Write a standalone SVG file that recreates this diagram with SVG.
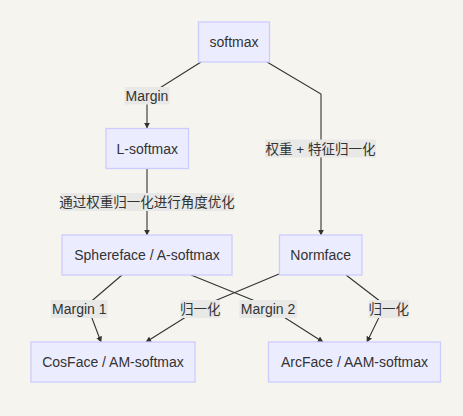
<svg xmlns="http://www.w3.org/2000/svg" width="463" height="416" viewBox="0 0 463 416">
<defs>
<style>
.node rect{fill:#ececff;stroke:#ccccff;stroke-width:1.3}
.node text,.label text{font-family:"Liberation Sans","Noto Sans CJK SC",sans-serif;font-size:14px;fill:#333;text-anchor:middle}
.label rect{fill:#e8e8e6}
.label text.cjk{font-size:13.5px}
.edges path{fill:none;stroke:#333;stroke-width:1.1}
</style>
<marker id="arrow" viewBox="0 0 10 10" refX="9" refY="5" markerWidth="6" markerHeight="6" markerUnits="userSpaceOnUse" orient="auto">
<path d="M0,0 L10,5 L0,10 z" fill="#333"/>
</marker>
</defs>
<rect width="463" height="416" fill="#f6f4ee"/>
<g class="edges">
<path d="M201,62 L147,96 L147,128" marker-end="url(#arrow)"/>
<path d="M267,62 L321,94 L321,235" marker-end="url(#arrow)"/>
<path d="M147,168.5 L147,235" marker-end="url(#arrow)"/>
<path d="M122,275 L87,305 L101,342" marker-end="url(#arrow)"/>
<path d="M279,274 L205,305 L146,342" marker-end="url(#arrow)"/>
<path d="M191,275 L265,305 L323,342" marker-end="url(#arrow)"/>
<path d="M346,275 L385,305 L367,342" marker-end="url(#arrow)"/>
</g>
<g class="label" id="l1"><rect x="124.5" y="87" width="45" height="17.5"/><text x="147" y="100.5">Margin</text></g>
<g class="label" id="l2"><rect x="265" y="139.5" width="111" height="18"/><text class="cjk" x="320.5" y="153.5">权重 + 特征归一化</text></g>
<g class="label" id="l3"><rect x="60.5" y="193" width="173.5" height="18"/><text class="cjk" x="147" y="207">通过权重归一化进行角度优化</text></g>
<g class="label" id="l4"><rect x="51" y="300" width="56.5" height="18"/><text x="79.3" y="314">Margin 1</text></g>
<g class="label" id="l5"><rect x="180.3" y="300" width="40" height="18"/><text class="cjk" x="200.3" y="314">归一化</text></g>
<g class="label" id="l6"><rect x="239.3" y="300" width="57.5" height="18"/><text x="268" y="314">Margin 2</text></g>
<g class="label" id="l7"><rect x="368.7" y="300" width="40" height="18"/><text class="cjk" x="388.7" y="314">归一化</text></g>
<g class="node" id="softmax"><rect x="198.5" y="22" width="71" height="40"/><text x="234" y="47">softmax</text></g>
<g class="node" id="lsoftmax"><rect x="106" y="128.5" width="82.5" height="40"/><text x="147.3" y="153.5">L-softmax</text></g>
<g class="node" id="sphereface"><rect x="62" y="235" width="170" height="40"/><text x="147" y="260">Sphereface / A-softmax</text></g>
<g class="node" id="normface"><rect x="279.5" y="235" width="82.5" height="40"/><text x="320.7" y="260">Normface</text></g>
<g class="node" id="cosface"><rect x="31" y="342" width="164" height="40"/><text x="113" y="367">CosFace / AM-softmax</text></g>
<g class="node" id="arcface"><rect x="268.5" y="342" width="172" height="40"/><text x="354.5" y="367">ArcFace / AAM-softmax</text></g>
</svg>
